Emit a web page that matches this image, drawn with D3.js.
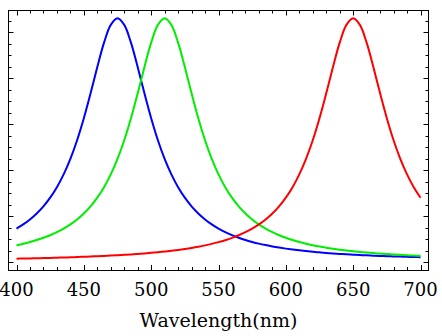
<!DOCTYPE html>
<html>
<head>
<meta charset="utf-8">
<script src="https://cdn.jsdelivr.net/npm/d3@7"></script>
<style>
  html, body { margin: 0; padding: 0; background: #fff; }
  svg { display: block; }
  text { font-family: "DejaVu Serif", serif; fill: #000; }
</style>
</head>
<body>
<svg id="chart" width="442" height="336"></svg>
<script>
// wavelengths (nm)
const wavelengths = [400,405,410,415,420,425,430,435,440,445,450,455,460,465,470,475,480,485,490,495,
  500,505,510,515,520,525,530,535,540,545,550,555,560,565,570,575,580,585,590,595,
  600,605,610,615,620,625,630,635,640,645,650,655,660,665,670,675,680,685,690,695,700];

const blueValues = [.1463,.1646,.1863,.2122,.2433,.2809,.3265,.3820,.4494,.5305,.6262,.7346,.8488,.9549,1.0323,1.061,1.0323,.9549,.8488,.7346,
  .6262,.5305,.4494,.3820,.3265,.2809,.2433,.2122,.1863,.1646,.1463,.1310,.1180,.1068,.0970,.0886,.0812,.0748,.0690,.0640,
  .0595,.0555,.0519,.0487,.0458,.0432,.0408,.0386,.0366,.0348,.0332,.0317,.0303,.0290,.0278,.0267,.0257,.0247,.0238,.0229,.0221];

const greenValues = [.0745,.0810,.0885,.0970,.1065,.1178,.1310,.1463,.1646,.1863,.2122,.2433,.2809,.3265,.3820,.4494,.5305,.6262,.7346,.8488,
  .9549,1.0323,1.061,1.0323,.9549,.8488,.7346,.6262,.5305,.4494,.3820,.3265,.2809,.2433,.2122,.1863,.1646,.1463,.1310,.1178,
  .1065,.0967,.0882,.0808,.0743,.0685,.0634,.0589,.0548,.0512,.0480,.0451,.0424,.0400,.0378,.0358,.0340,.0323,.0308,.0294,.0281];

const redValues = [.0157,.0163,.0169,.0176,.0183,.0191,.0200,.0209,.0218,.0228,.0239,.0251,.0264,.0278,.0293,.0308,.0325,.0344,.0364,.0386,
  .0410,.0437,.0466,.0499,.0536,.0578,.0624,.0676,.0735,.0801,.0876,.0962,.1061,.1175,.1308,.1463,.1646,.1863,.2122,.2433,
  .2809,.3265,.3820,.4494,.5305,.6262,.7346,.8488,.9549,1.0323,1.061,1.0323,.9549,.8488,.7346,.6262,.5305,.4494,.3820,.3265,.2809];

const xTickLabels = ["400","450","500","550","600","650","700"];
const xLabel = "Wavelength(nm)";

const series = [
  { name: "blue", values: blueValues, color: "#0000ff" },
  { name: "green", values: greenValues, color: "#00ee00" },
  { name: "red", values: redValues, color: "#ff0000" }
];

const svg = d3.select("#chart");
const frame = { left: 8, top: 10, right: 428, bottom: 270 };

const x = d3.scaleLinear().domain([400, 700]).range([16.5, 420.5]);
const y = d3.scaleLinear().domain([0, 1]).range([262.3, 32.3]);

// frame
svg.append("rect")
  .attr("x", frame.left + 0.5).attr("y", frame.top + 0.5)
  .attr("width", frame.right - frame.left).attr("height", frame.bottom - frame.top)
  .attr("fill", "none").attr("stroke", "#000").attr("stroke-width", 1);

const g = svg.append("g");

// x ticks (minor every 10, major every 50)
const xMinor = d3.range(400, 701, 10);
xMinor.forEach(v => {
  const major = v % 50 === 0;
  const len = major ? 5 : 3;
  const px = Math.round(x(v)) + 0.5;
  g.append("line").attr("x1", px).attr("x2", px)
    .attr("y1", frame.bottom).attr("y2", frame.bottom - len)
    .attr("stroke", "#000").attr("stroke-width", 1);
  g.append("line").attr("x1", px).attr("x2", px)
    .attr("y1", frame.top + 0.5).attr("y2", frame.top + 0.5 + len)
    .attr("stroke", "#000").attr("stroke-width", 1);
});

// y ticks (minor every 0.05, major every 0.2)
const yMinor = d3.range(0, 21.5, 1).map(i => i * 0.05);
yMinor.forEach((v, i) => {
  const major = i % 4 === 0;
  const len = major ? 5 : 3;
  const py = Math.round(y(v)) + 0.5;
  g.append("line").attr("x1", frame.left + 0.5).attr("x2", frame.left + 0.5 + len)
    .attr("y1", py).attr("y2", py).attr("stroke", "#000").attr("stroke-width", 1);
  g.append("line").attr("x1", frame.right + 0.5).attr("x2", frame.right + 0.5 - len)
    .attr("y1", py).attr("y2", py).attr("stroke", "#000").attr("stroke-width", 1);
});

// x tick labels
xTickLabels.forEach(t => {
  svg.append("text")
    .attr("x", x(+t)).attr("y", 295.5)
    .attr("text-anchor", "middle")
    .attr("font-size", 18)
    .text(t);
});

svg.append("text")
  .attr("x", x(550)).attr("y", 327)
  .attr("text-anchor", "middle")
  .attr("font-size", 19)
  .text(xLabel);

// curves
const line = d3.line()
  .x((d, i) => x(wavelengths[i]))
  .y(d => y(d))
  .curve(d3.curveCatmullRom.alpha(0.5));

series.forEach(s => {
  svg.append("path")
    .datum(s.values)
    .attr("d", line)
    .attr("fill", "none")
    .attr("stroke", s.color)
    .attr("stroke-width", 2)
    .attr("stroke-linejoin", "round")
    .attr("stroke-linecap", "butt");
});
</script>
</body>
</html>
